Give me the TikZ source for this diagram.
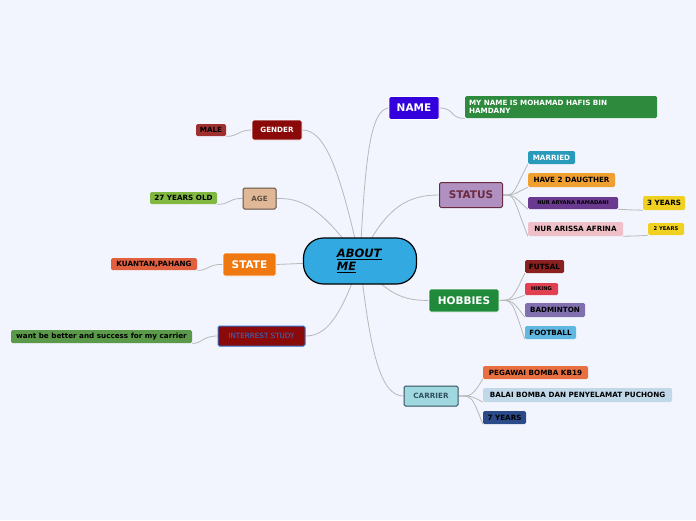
\documentclass[tikz,border=0pt]{standalone}
\usepackage{fontspec}
\setmainfont{DejaVu Sans}
\pgfdeclarelayer{bg}
\pgfdeclarelayer{edges}
\pgfsetlayers{bg,edges,main}
\begin{document}
\begin{tikzpicture}[x=1pt,y=-1pt,
 box/.style={draw=none,rounded corners=1.5pt,inner sep=0pt,align=center,font=\bfseries\fontsize{7.2}{8.5}\selectfont},
 tiny/.style={font=\bfseries\fontsize{5.2}{6}\selectfont},
 edge/.style={draw=black!28,line width=0.8pt},
 big/.style={font=\bfseries\fontsize{10.5}{12}\selectfont}]
\begin{pgfonlayer}{bg}
\fill[fill={rgb,255:red,242;green,245;blue,254}] (0,0) rectangle (696,520);
\end{pgfonlayer}
\definecolor{cblue}{RGB}{51,0,221}
\definecolor{cgreen}{RGB}{46,139,62}
\definecolor{cstat}{RGB}{176,144,192}
\definecolor{cstatb}{RGB}{106,42,64}
\definecolor{cteal}{RGB}{42,154,187}
\definecolor{corange}{RGB}{240,160,48}
\definecolor{cpurp}{RGB}{106,58,144}
\definecolor{cyel}{RGB}{240,208,32}
\definecolor{cpink}{RGB}{240,192,200}
\definecolor{chob}{RGB}{30,138,58}
\definecolor{cdred}{RGB}{138,32,32}
\definecolor{cred}{RGB}{224,64,80}
\definecolor{cbad}{RGB}{128,112,176}
\definecolor{clb}{RGB}{96,184,224}
\definecolor{ccar}{RGB}{160,216,224}
\definecolor{ccarb}{RGB}{48,80,96}
\definecolor{cpeg}{RGB}{232,112,64}
\definecolor{cbal}{RGB}{192,216,232}
\definecolor{cnavy}{RGB}{42,74,138}
\definecolor{cgen}{RGB}{138,10,10}
\definecolor{cmale}{RGB}{160,48,48}
\definecolor{ctan}{RGB}{224,184,152}
\definecolor{ctanb}{RGB}{96,80,64}
\definecolor{cage}{RGB}{128,184,64}
\definecolor{cstate}{RGB}{240,120,16}
\definecolor{ckua}{RGB}{224,96,64}
\definecolor{cib}{RGB}{48,112,208}
\definecolor{cwant}{RGB}{90,154,74}
\node[box,draw=black,line width=1.2pt,rounded corners=20pt,fill={rgb,255:red,50;green,170;blue,225},minimum width=113pt,minimum height=46pt,align=left,font=\bfseries\itshape\fontsize{11.5}{13}\selectfont] (root) at (360,261) {\underline{ABOUT}\\\underline{ME}\hphantom{OUT}};
\node[box,big,fill=cblue,text=white,minimum width=50pt,minimum height=23pt,draw=white,line width=0.8pt] (name) at (414,108) {NAME};
\node[box,fill=cgreen,text=white,minimum width=192pt,minimum height=22pt,text width=184pt,align=left] (namel) at (561,107) {MY NAME IS MOHAMAD HAFIS BIN\\HAMDANY};
\node[box,big,fill=cstat,draw=cstatb,line width=1pt,text=cstatb,minimum width=63pt,minimum height=25pt] (status) at (471,195) {STATUS};
\node[box,fill=cteal,text=white,minimum width=47pt,minimum height=13pt] (mar) at (551.5,157.5) {MARRIED};
\node[box,fill=corange,text=black,minimum width=87pt,minimum height=14pt] (hav) at (571.5,180) {HAVE 2 DAUGTHER};
\node[box,tiny,fill=cpurp,text=black,minimum width=90pt,minimum height=12pt] (ary) at (573,203) {NUR ARYANA RAMADANI};
\node[box,fill=cyel,text=black,minimum width=42pt,minimum height=14pt] (y3) at (664,203) {3 YEARS};
\node[box,fill=cpink,text=black,minimum width=95pt,minimum height=14pt] (ari) at (575.5,229) {NUR ARISSA AFRINA};
\node[box,tiny,fill=cyel,text=black,minimum width=36pt,minimum height=12pt] (y2) at (666,229) {2 YEARS};
\node[box,big,fill=chob,text=white,draw=white,line width=0.8pt,minimum width=70pt,minimum height=23pt] (hob) at (464,300.5) {HOBBIES};
\node[box,fill=cdred,text=black,minimum width=39pt,minimum height=13pt] (fut) at (544.5,266.5) {FUTSAL};
\node[box,tiny,fill=cred,text=black,minimum width=33pt,minimum height=12pt] (hik) at (541.5,289) {HIKING};
\node[box,fill=cbad,text=black,minimum width=60pt,minimum height=14pt] (bad) at (555,310) {BADMINTON};
\node[box,fill=clb,text=black,minimum width=51pt,minimum height=13pt] (foo) at (550.5,332.5) {FOOTBALL};
\node[box,fill=ccar,draw=ccarb,line width=1pt,text=ccarb,minimum width=54pt,minimum height=20pt] (car) at (431,396) {CARRIER};
\node[box,fill=cpeg,text=black,minimum width=105pt,minimum height=13pt] (peg) at (535.5,372.5) {PEGAWAI BOMBA KB19};
\node[box,fill=cbal,text=black,minimum width=189pt,minimum height=14pt] (bal) at (577.5,395) {BALAI BOMBA DAN PENYELAMAT PUCHONG};
\node[box,fill=cnavy,text=black,minimum width=43pt,minimum height=13pt] (sev) at (504.5,417.5) {7 YEARS};
\node[box,fill=cgen,text=white,draw=white,line width=0.8pt,minimum width=50pt,minimum height=20pt] (gen) at (277,130) {GENDER};
\node[box,fill=cmale,text=black,minimum width=30pt,minimum height=12pt] (male) at (211,130) {MALE};
\node[box,fill=ctan,draw=ctanb,line width=1pt,text=ctanb,minimum width=33pt,minimum height=21pt] (age) at (259.5,198.5) {AGE};
\node[box,fill=cage,text=black,minimum width=67pt,minimum height=12pt] (ageL) at (183.5,198) {27 YEARS OLD};
\node[box,big,fill=cstate,text=white,draw=white,line width=0.8pt,minimum width=53pt,minimum height=23pt] (state) at (249.5,264.5) {STATE};
\node[box,fill=ckua,text=black,minimum width=86pt,minimum height=12pt] (kua) at (154,264) {KUANTAN,PAHANG};
\node[box,fill=cgen,draw=cib,line width=1pt,text=cib,minimum width=87pt,minimum height=20pt,font=\fontsize{7.2}{8}\selectfont] (int) at (261.5,336) {INTERREST STUDY};
\node[box,fill=cwant,text=black,minimum width=181pt,minimum height=13pt] (want) at (101.5,336.5) {want be better and success for my carrier};
\begin{pgfonlayer}{edges}
\draw[edge] (root.center) .. controls (365,160) and (370,110) .. (name.west);
\draw[edge] (root.center) .. controls (385,205) and (410,195) .. (status.west);
\draw[edge] (root.center) .. controls (390,300) and (410,300) .. (hob.west);
\draw[edge] (root.center) .. controls (370,350) and (380,396) .. (car.west);
\draw[edge] (root.center) .. controls (340,170) and (325,130) .. (gen.east);
\draw[edge] (root.center) .. controls (320,205) and (300,198) .. (age.east);
\draw[edge] (root.center) -- (state.east);
\draw[edge] (root.center) .. controls (340,320) and (325,336) .. (int.east);
\draw[edge] (name.east) .. controls (455,108) and (450,119) .. (namel.south west);
\foreach \n in {mar,hav,ary,ari} \draw[edge] (status.east) .. controls (515,195) and (512,195) .. (\n.south west);
\draw[edge] (ary.south east) .. controls (630,210) and (635,210) .. (y3.south west);
\draw[edge] (ari.south east) .. controls (635,236) and (640,236) .. (y2.south west);
\foreach \n in {fut,hik,bad,foo} \draw[edge] (hob.east) .. controls (512,300) and (512,300) .. (\n.south west);
\foreach \n in {peg,bal,sev} \draw[edge] (car.east) .. controls (472,396) and (472,396) .. (\n.south west);
\draw[edge] (gen.west) .. controls (238,130) and (238,137) .. (male.south east);
\draw[edge] (age.west) .. controls (229,198) and (229,205) .. (ageL.south east);
\draw[edge] (state.west) .. controls (208,264) and (208,271) .. (kua.south east);
\draw[edge] (int.west) .. controls (202,336) and (202,344) .. (want.south east);
\end{pgfonlayer}
\end{tikzpicture}
\end{document}
